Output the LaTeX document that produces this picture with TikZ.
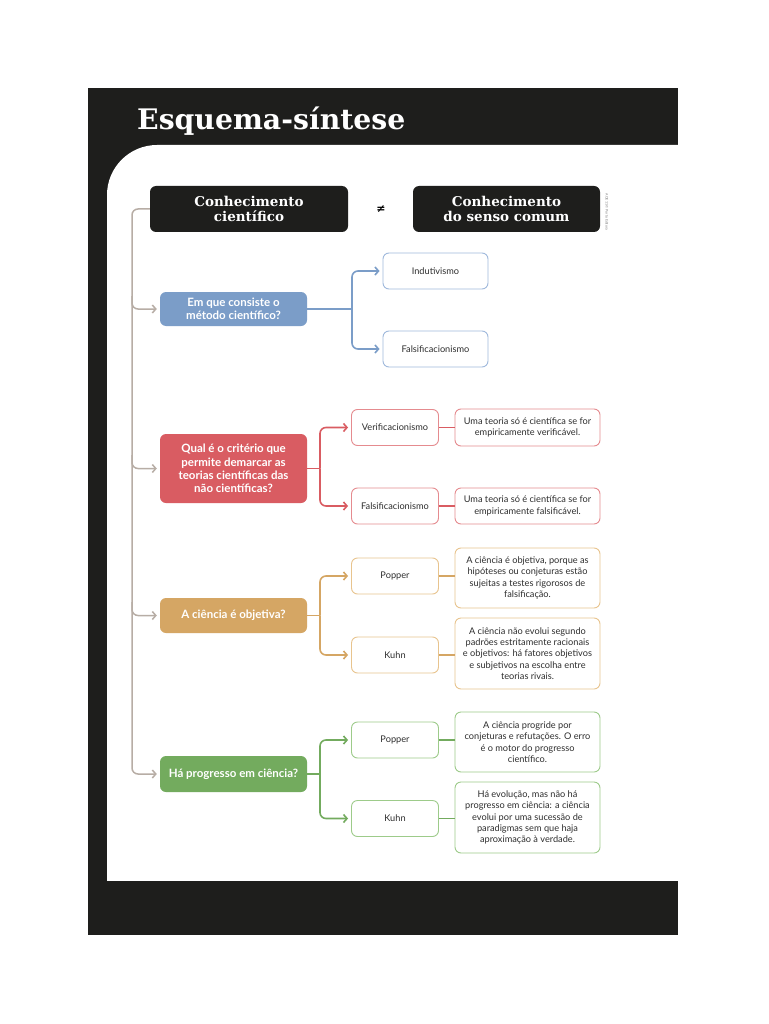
\documentclass[tikz,border=0pt]{standalone}
\usepackage{fontspec}
\setmainfont{Lato}
\newfontfamily\titlefont{DejaVu Serif}
\newfontfamily\symfont{DejaVu Sans}
\usetikzlibrary{positioning,arrows.meta}

\definecolor{ink}{HTML}{1E1E1C}
\definecolor{trunkc}{HTML}{B7ADA5}
\definecolor{txt}{HTML}{2E2E2E}
\definecolor{blq}{HTML}{7B9DC8}
\definecolor{bll}{HTML}{9FB9DC}
\definecolor{rdq}{HTML}{D95C62}
\definecolor{rdl}{HTML}{E58B8F}
\definecolor{orq}{HTML}{D5A664}
\definecolor{orl}{HTML}{E8C48E}
\definecolor{grq}{HTML}{73AB5E}
\definecolor{grl}{HTML}{9DCB8A}

\begin{document}
\begin{tikzpicture}[x=1pt, y=-1pt,
  hdr/.style={fill=ink, rounded corners=6pt, text=white, align=center,
    font=\titlefont\bfseries\fontsize{13.5}{15}\selectfont},
  qbox/.style={rounded corners=6pt, text=white, minimum width=147pt, align=center,
    inner sep=2pt, font=\bfseries\fontsize{11.5}{13.2}\selectfont},
  abox/.style={draw, fill=white, rounded corners=6pt, line width=0.9pt,
    minimum width=87pt, minimum height=36pt, align=center, text=txt,
    font=\fontsize{9.2}{11.3}\selectfont},
  ebox/.style={abox, minimum width=145pt, inner sep=1pt},
  link/.style={line width=1.6pt, rounded corners=6pt},
  tip/.style={-{Straight Barb[length=3.5pt,width=8pt]}, shorten >=3pt}]
  \useasboundingbox (0,0) rectangle (768,1024);

  % frame
  \fill[ink] (88,88) rectangle (678,935);
  \begin{scope}
    \clip (88,88) rectangle (678,880);
    \fill[white, rounded corners=50pt] (107,145) rectangle (800,1000);
  \end{scope}
  \node[anchor=base west, inner sep=0pt, text=white,
    font=\titlefont\bfseries\fontsize{28.3}{30}\selectfont] (title) at (137,130) {Esquema-síntese};

  % header
  \node[hdr, minimum width=198pt, minimum height=46pt] (h1) at (249,209) {Conhecimento\\científico};
  \node[hdr, minimum width=187pt, minimum height=46pt] (h2) at (506.5,209) {Conhecimento\\do senso comum};
  \node[font=\symfont\bfseries\fontsize{11}{11}\selectfont] (ne) at (381,209) {≠};
  \node[rotate=-90, text=gray, font=\fontsize{3.5}{4}\selectfont] (cr) at (607,212) {AOE11 © Porto Editora};

  % questions
  \node[qbox, fill=blq, minimum height=34pt] (q1) at (233.5,309) {Em que consiste o\\método científico?};
  \node[qbox, fill=rdq, minimum height=69pt] (q2) at (233.5,468.5) {Qual é o critério que\\permite demarcar as\\teorias científicas das\\não científicas?};
  \node[qbox, fill=orq, minimum height=35pt] (q3) at (233.5,615.5) {A ciência é objetiva?};
  \node[qbox, fill=grq, minimum height=36pt] (q4) at (233.5,774) {Há progresso em ciência?};

  % answers
  \node[abox, draw=bll, minimum width=105pt] (a1) at (435.5,271) {Indutivismo};
  \node[abox, draw=bll, minimum width=105pt] (a2) at (435.5,349) {Falsificacionismo};
  \node[abox, draw=rdl] (b1) at (395,427.5) {Verificacionismo};
  \node[abox, draw=rdl] (b2) at (395,506) {Falsificacionismo};
  \node[abox, draw=orl] (c1) at (395,576) {Popper};
  \node[abox, draw=orl] (c2) at (395,655) {Kuhn};
  \node[abox, draw=grl] (d1) at (395,740) {Popper};
  \node[abox, draw=grl] (d2) at (395,818.5) {Kuhn};

  % explanations
  \node[ebox, draw=rdl, minimum height=37pt] (e1) at (527.5,427.5) {Uma teoria só é científica se for\\empiricamente verificável.};
  \node[ebox, draw=rdl] (e2) at (527.5,506) {Uma teoria só é científica se for\\empiricamente falsificável.};
  \node[ebox, draw=orl, minimum height=60pt] (e3) at (527.5,578) {A ciência é objetiva, porque as\\hipóteses ou conjeturas estão\\sujeitas a testes rigorosos de\\falsificação.};
  \node[ebox, draw=orl, minimum height=71pt] (e4) at (527.5,653.5) {A ciência não evolui segundo\\padrões estritamente racionais\\e objetivos: há fatores objetivos\\e subjetivos na escolha entre\\teorias rivais.};
  \node[ebox, draw=grl, minimum height=60pt] (e5) at (527.5,742) {A ciência progride por\\conjeturas e refutações. O erro\\é o motor do progresso\\científico.};
  \node[ebox, draw=grl, minimum height=71pt] (e6) at (527.5,817.5) {Há evolução, mas não há\\progresso em ciência: a ciência\\evolui por uma sucessão de\\paradigmas sem que haja\\aproximação à verdade.};

  % trunk
  \draw[link, trunkc, line width=1.5pt, tip] (h1.west) -| (132,400) |- (q4.west);
  \draw[link, trunkc, line width=1.5pt, tip] (132,296) |- (q1.west);
  \draw[link, trunkc, line width=1.5pt, tip] (132,455) |- (q2.west);
  \draw[link, trunkc, line width=1.5pt, tip] (132,602) |- (q3.west);

  % branches
  \draw[link, blq] (q1.east) -- (352,309) coordinate (k1);
  \draw[link, blq, tip] (k1) |- (a1.west);
  \draw[link, blq, tip] (k1) |- (a2.west);
  \draw[link, rdq] (q2.east) -- (320,468.5) coordinate (k2);
  \draw[link, rdq, tip] (k2) |- (b1.west);
  \draw[link, rdq, tip] (k2) |- (b2.west);
  \draw[link, orq] (q3.east) -- (320,615.5) coordinate (k3);
  \draw[link, orq, tip] (k3) |- (c1.west);
  \draw[link, orq, tip] (k3) |- (c2.west);
  \draw[link, grq] (q4.east) -- (320,774) coordinate (k4);
  \draw[link, grq, tip] (k4) |- (d1.west);
  \draw[link, grq, tip] (k4) |- (d2.west);

  % explanation links
  \draw[link, rdq] (b1.east) -- (b1.east -| e1.west);
  \draw[link, rdq] (b2.east) -- (b2.east -| e2.west);
  \draw[link, orq] (c1.east) -- (c1.east -| e3.west);
  \draw[link, orq] (c2.east) -- (c2.east -| e4.west);
  \draw[link, grq] (d1.east) -- (d1.east -| e5.west);
  \draw[link, grq] (d2.east) -- (d2.east -| e6.west);
\end{tikzpicture}
\end{document}
